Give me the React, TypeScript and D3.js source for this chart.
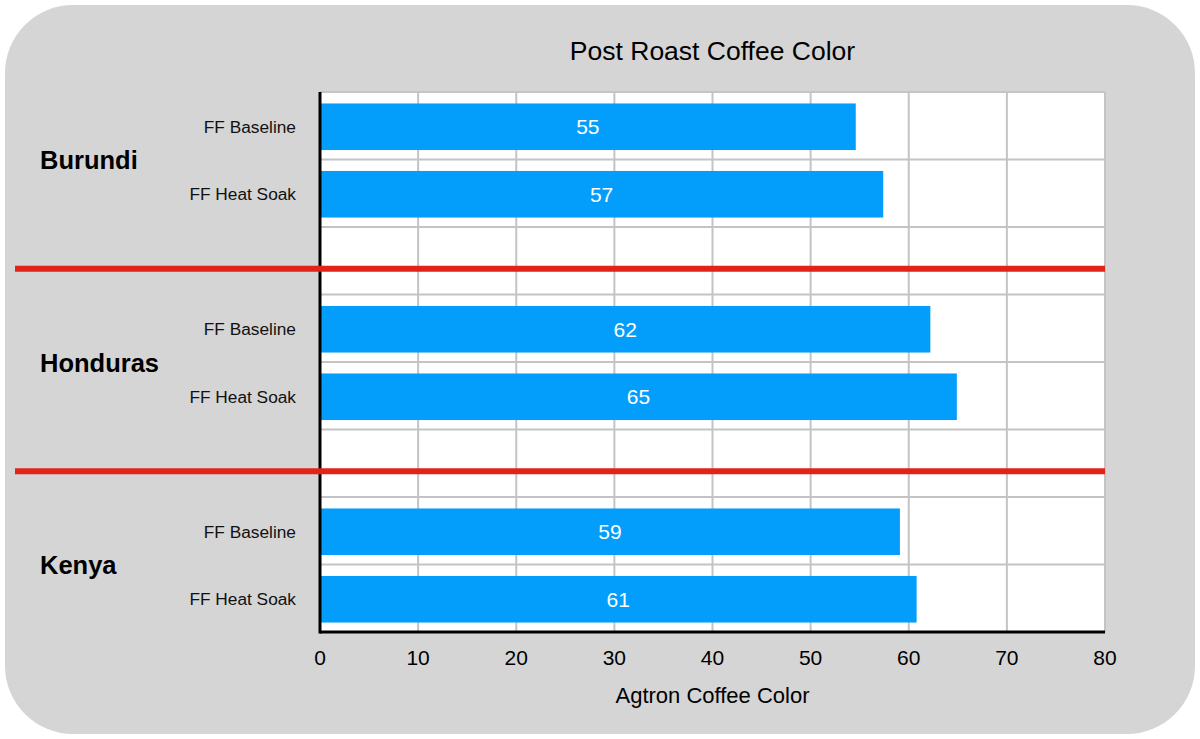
import React from 'react'
import * as d3 from 'd3'

// data
const rowKeys = ['bu-b', 'bu-h', 'gap1', 'ho-b', 'ho-h', 'gap2', 'ke-b', 'ke-h']
const barRows = ['bu-b', 'bu-h', 'ho-b', 'ho-h', 'ke-b', 'ke-h']
const barNames = ['FF Baseline', 'FF Heat Soak', 'FF Baseline', 'FF Heat Soak', 'FF Baseline', 'FF Heat Soak']
const barValues = [54.6, 57.4, 62.2, 64.9, 59.1, 60.8]
const barLabels = ['55', '57', '62', '65', '59', '61']
const countries = ['Burundi', 'Honduras', 'Kenya']
const countryRows = [['bu-b', 'bu-h'], ['ho-b', 'ho-h'], ['ke-b', 'ke-h']]
const dividerRows = ['gap1', 'gap2']
const xTicks = [0, 10, 20, 30, 40, 50, 60, 70, 80]

const W = 1200
const H = 739
const margin = { top: 92, right: 95, bottom: 107, left: 320 }
const font = '"Liberation Sans", Arial, Helvetica, sans-serif'

export default function App() {
	const x = d3.scaleLinear().domain([0, 80]).range([margin.left, W - margin.right])
	const y = d3.scaleBand().domain(rowKeys).range([margin.top, H - margin.bottom]).paddingInner(0).paddingOuter(0)
	const step = y.step()
	const barH = step * 0.69
	const barOff = (step - barH) / 2 + 1

	const top = margin.top
	const bottom = H - margin.bottom
	const left = margin.left
	const right = W - margin.right

	return (
		<svg width={W} height={H} style={{ position: 'absolute', left: 0, top: 0, fontFamily: font }}>
			<rect x={0} y={0} width={W} height={H} fill="#ffffff" />
			<rect x={5} y={5} width={W - 10} height={H - 10} rx={68} ry={68} fill="#d5d5d5" />

			{/* plot area */}
			<rect x={left} y={top} width={right - left} height={bottom - top} fill="#ffffff" />

			{/* vertical grid */}
			{xTicks.slice(1).map(t => (
				<line key={'gx' + t} x1={x(t)} x2={x(t)} y1={top} y2={bottom} stroke="#c4c4c4" strokeWidth={2} />
			))}
			{/* horizontal grid */}
			{rowKeys.map(k => (
				<line key={'gy' + k} x1={left} x2={right} y1={y(k)} y2={y(k)} stroke="#c4c4c4" strokeWidth={2} />
			))}

			{/* bars */}
			{barRows.map((k, i) => (
				<g key={k}>
					<rect x={x(0)} y={(y(k) as number) + barOff} width={x(barValues[i]) - x(0)} height={barH} fill="#039dfc" />
					<text
						x={(x(0) + x(barValues[i])) / 2}
						y={(y(k) as number) + barOff + barH / 2}
						dy="0.35em"
						textAnchor="middle"
						fill="#ffffff"
						fontSize={21}
					>
						{barLabels[i]}
					</text>
					<text x={left - 24} y={(y(k) as number) + barOff + barH / 2} dy="0.35em" textAnchor="end" fontSize={17.3} fill="#111">
						{barNames[i]}
					</text>
				</g>
			))}

			{/* axes */}
			<line x1={left} x2={left} y1={top} y2={bottom + 1.5} stroke="#000" strokeWidth={3} />
			<line x1={left} x2={right} y1={bottom} y2={bottom} stroke="#000" strokeWidth={3} />

			{/* red dividers */}
			{dividerRows.map(k => (
				<line
					key={'d' + k}
					x1={15}
					x2={right}
					y1={(y(k) as number) + step * 0.62}
					y2={(y(k) as number) + step * 0.62}
					stroke="#e2231a"
					strokeWidth={6}
				/>
			))}

			{/* country labels */}
			{countries.map((c, i) => (
				<text
					key={c}
					x={40}
					y={((y(countryRows[i][0]) as number) + (y(countryRows[i][1]) as number) + step) / 2 + 1}
					dy="0.35em"
					fontSize={25.5}
					fontWeight="bold"
					fill="#000"
				>
					{c}
				</text>
			))}

			{/* x tick labels */}
			{xTicks.map(t => (
				<text key={'t' + t} x={x(t)} y={bottom + 26} dy="0.35em" textAnchor="middle" fontSize={21} fill="#000">
					{t}
				</text>
			))}

			<text x={(left + right) / 2} y={695} dy="0.35em" textAnchor="middle" fontSize={22} fill="#000">
				Agtron Coffee Color
			</text>
			<text x={(left + right) / 2} y={51} dy="0.35em" textAnchor="middle" fontSize={26.5} fill="#000">
				Post Roast Coffee Color
			</text>
		</svg>
	)
}
